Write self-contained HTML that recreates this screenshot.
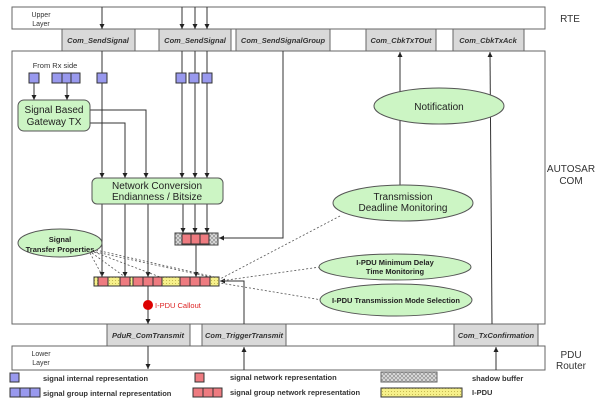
<!DOCTYPE html>
<html><head><meta charset="utf-8"><style>
body{margin:0;background:#fff}
svg{display:block;font-family:"Liberation Sans",sans-serif}
</style></head><body>
<svg width="600" height="403" viewBox="0 0 600 403" xmlns="http://www.w3.org/2000/svg">
<defs>
<marker id="a" markerWidth="6" markerHeight="6" refX="5" refY="3" orient="auto" markerUnits="userSpaceOnUse"><path d="M0,0.5 L5,3 L0,5.5z" fill="#222"/></marker>
<pattern id="sh" width="4" height="4" patternUnits="userSpaceOnUse"><rect width="4" height="4" fill="#ddd"/><path d="M0,2 L2,0 L4,2 L2,4z" fill="none" stroke="#888" stroke-width="0.6"/></pattern>
<pattern id="yl" width="3" height="3" patternUnits="userSpaceOnUse"><rect width="3" height="3" fill="#f6f08a"/><circle cx="1.5" cy="1.5" r="0.5" fill="#b8a840"/></pattern>
</defs>
<g stroke="#666" fill="#fff" stroke-width="1">
<rect x="12" y="7" width="533" height="22"/>
<rect x="12" y="51" width="533" height="273"/>
<rect x="12" y="346" width="533" height="24"/>
</g>
<g stroke="#666" fill="#d9d9d9" stroke-width="1">
<rect x="62" y="29" width="73" height="22"/>
<rect x="159" y="29" width="72" height="22"/>
<rect x="236" y="29" width="94" height="22"/>
<rect x="366" y="29" width="70" height="22"/>
<rect x="453" y="29" width="71" height="22"/>
<rect x="107" y="324" width="83" height="22"/>
<rect x="202" y="324" width="84" height="22"/>
<rect x="154" y="324" width="0" height="0"/>
<rect x="454" y="324" width="84" height="22"/>
</g>
<g font-size="7.5" font-style="italic" font-weight="bold" fill="#333" text-anchor="middle">
<text x="98" y="43">Com_SendSignal</text>
<text x="195" y="43">Com_SendSignal</text>
<text x="283" y="43">Com_SendSignalGroup</text>
<text x="401" y="43">Com_CbkTxTOut</text>
<text x="488" y="43">Com_CbkTxAck</text>
<text x="148" y="338">PduR_ComTransmit</text>
<text x="244" y="338">Com_TriggerTransmit</text>
<text x="496" y="338">Com_TxConfirmation</text>
</g>
<g font-size="7" fill="#333" text-anchor="middle">
<text x="41" y="17">Upper</text><text x="41" y="26">Layer</text>
<text x="41" y="356">Lower</text><text x="41" y="365">Layer</text>
<text x="55" y="68" font-size="7.5">From Rx side</text>
</g>
<g font-size="10" fill="#333" text-anchor="middle">
<text x="570" y="22">RTE</text>
<text x="571" y="172">AUTOSAR</text><text x="571" y="184">COM</text>
<text x="571" y="358">PDU</text><text x="571" y="369">Router</text>
</g>
<!-- lines -->
<g stroke="#333" stroke-width="1" fill="none" marker-end="url(#a)">
<line x1="102" y1="7" x2="102" y2="29"/>
<line x1="182" y1="7" x2="182" y2="29"/>
<line x1="195" y1="7" x2="195" y2="29"/>
<line x1="207" y1="7" x2="207" y2="29"/>
<line x1="102" y1="51" x2="102" y2="178"/>
<line x1="182" y1="51" x2="182" y2="178"/>
<line x1="195" y1="51" x2="195" y2="178"/>
<line x1="207" y1="51" x2="207" y2="178"/>
<line x1="34" y1="82" x2="34" y2="100"/>
<line x1="67" y1="82" x2="67" y2="100"/>
<polyline points="90,110 146,110 146,178"/>
<polyline points="90,123 125,123 125,178"/>
<line x1="102" y1="204" x2="102" y2="277"/>
<line x1="125" y1="204" x2="125" y2="277"/>
<line x1="148" y1="204" x2="148" y2="277"/>
<line x1="183" y1="204" x2="183" y2="233"/>
<line x1="195" y1="204" x2="195" y2="233"/>
<line x1="207" y1="204" x2="207" y2="233"/>
<polyline points="283,51 283,238 219,238"/>
<line x1="196" y1="245" x2="196" y2="277"/>
<polyline points="244,324 244,281 220,281"/>
<line x1="244" y1="370" x2="244" y2="347"/>
<line x1="148" y1="286" x2="148" y2="324"/>
<line x1="148" y1="346" x2="148" y2="369"/>
<line x1="400" y1="185" x2="400" y2="52"/>
<line x1="492" y1="324" x2="490" y2="52"/>
<line x1="496" y1="370" x2="496" y2="347"/>
</g>
<!-- dashed -->
<g stroke="#555" stroke-width="0.8" stroke-dasharray="2,2" fill="none">
<line x1="90" y1="253" x2="103" y2="277"/>
<line x1="92" y1="253" x2="125" y2="277"/>
<line x1="94" y1="252" x2="160" y2="277"/>
<line x1="96" y1="250" x2="219" y2="278"/>
<line x1="96" y1="252" x2="210" y2="277"/>
<line x1="340" y1="216" x2="220" y2="279"/>
<line x1="320" y1="267" x2="220" y2="281"/>
<line x1="322" y1="300" x2="220" y2="283"/>
</g>
<!-- squares -->
<g stroke="#333" stroke-width="1" fill="#9999ee">
<rect x="29" y="73" width="10" height="10"/>
<rect x="52" y="73" width="10" height="10"/><rect x="62" y="73" width="9" height="10"/><rect x="71" y="73" width="9" height="10"/>
<rect x="97" y="73" width="10" height="10"/>
<rect x="176" y="73" width="10" height="10"/><rect x="189" y="73" width="10" height="10"/><rect x="202" y="73" width="10" height="10"/>
</g>
<!-- boxes -->
<g stroke="#555" fill="#ccf5c4" stroke-width="1">
<rect x="18" y="100" width="72" height="31" rx="6"/>
<rect x="92" y="178" width="131" height="26" rx="5"/>
<ellipse cx="60" cy="243" rx="42" ry="14"/>
<ellipse cx="439" cy="106" rx="65" ry="18"/>
<ellipse cx="403" cy="203" rx="70" ry="18"/>
<ellipse cx="395" cy="267" rx="76" ry="13"/>
<ellipse cx="396" cy="300" rx="76" ry="16"/>
</g>
<g fill="#222" text-anchor="middle" font-size="10">
<text x="54" y="113">Signal Based</text><text x="54" y="125">Gateway TX</text>
<text x="157" y="189">Network Conversion</text><text x="157" y="200">Endianness / Bitsize</text>
<text x="439" y="110">Notification</text>
<text x="403" y="200">Transmission</text><text x="403" y="211">Deadline Monitoring</text>
<g font-size="7.5" font-weight="bold">
<text x="60" y="242">Signal</text><text x="60" y="252">Transfer Properties</text>
<text x="395" y="265">I-PDU  Minimum Delay</text><text x="395" y="274">Time Monitoring</text>
<text x="396" y="303">I-PDU Transmission Mode Selection</text>
</g>
</g>
<!-- shadow buffer -->
<rect x="175" y="233" width="43" height="12" fill="url(#sh)" stroke="#444"/>
<g fill="#ee7b80" stroke="#333"><rect x="182" y="234" width="9" height="10"/><rect x="191" y="234" width="9" height="10"/><rect x="200" y="234" width="9" height="10"/></g>
<!-- IPDU -->
<rect x="94" y="277" width="125" height="9" fill="url(#yl)" stroke="#333"/>
<g fill="#ee7b80" stroke="#333">
<rect x="98" y="277" width="10" height="9"/>
<rect x="120" y="277" width="10" height="9"/>
<rect x="133" y="277" width="10" height="9"/><rect x="143" y="277" width="10" height="9"/><rect x="153" y="277" width="9" height="9"/>
<rect x="180" y="277" width="10" height="9"/><rect x="190" y="277" width="10" height="9"/><rect x="200" y="277" width="10" height="9"/>
</g>
<circle cx="148" cy="305" r="5" fill="#dd0000"/>
<text x="155" y="308" font-size="7.5" fill="#dd2222">I-PDU Callout</text>
<!-- legend -->
<g stroke="#333" fill="#9999ee">
<rect x="10" y="373" width="9" height="9"/>
<rect x="10" y="388" width="10" height="9"/><rect x="20" y="388" width="10" height="9"/><rect x="30" y="388" width="10" height="9"/>
</g>
<g stroke="#333" fill="#ee7b80">
<rect x="195" y="373" width="9" height="9"/>
<rect x="193" y="388" width="10" height="9"/><rect x="203" y="388" width="10" height="9"/><rect x="213" y="388" width="9" height="9"/>
</g>
<rect x="381" y="372" width="56" height="10" fill="url(#sh)" stroke="#666"/>
<rect x="381" y="388" width="81" height="9" fill="url(#yl)" stroke="#333"/>
<g font-size="7.5" font-weight="bold" fill="#333">
<text x="43" y="381">signal internal representation</text>
<text x="43" y="396">signal group internal representation</text>
<text x="230" y="380">signal network representation</text>
<text x="230" y="395">signal group network representation</text>
<text x="472" y="381">shadow buffer</text>
<text x="472" y="395">I-PDU</text>
</g>
</svg>
</body></html>
